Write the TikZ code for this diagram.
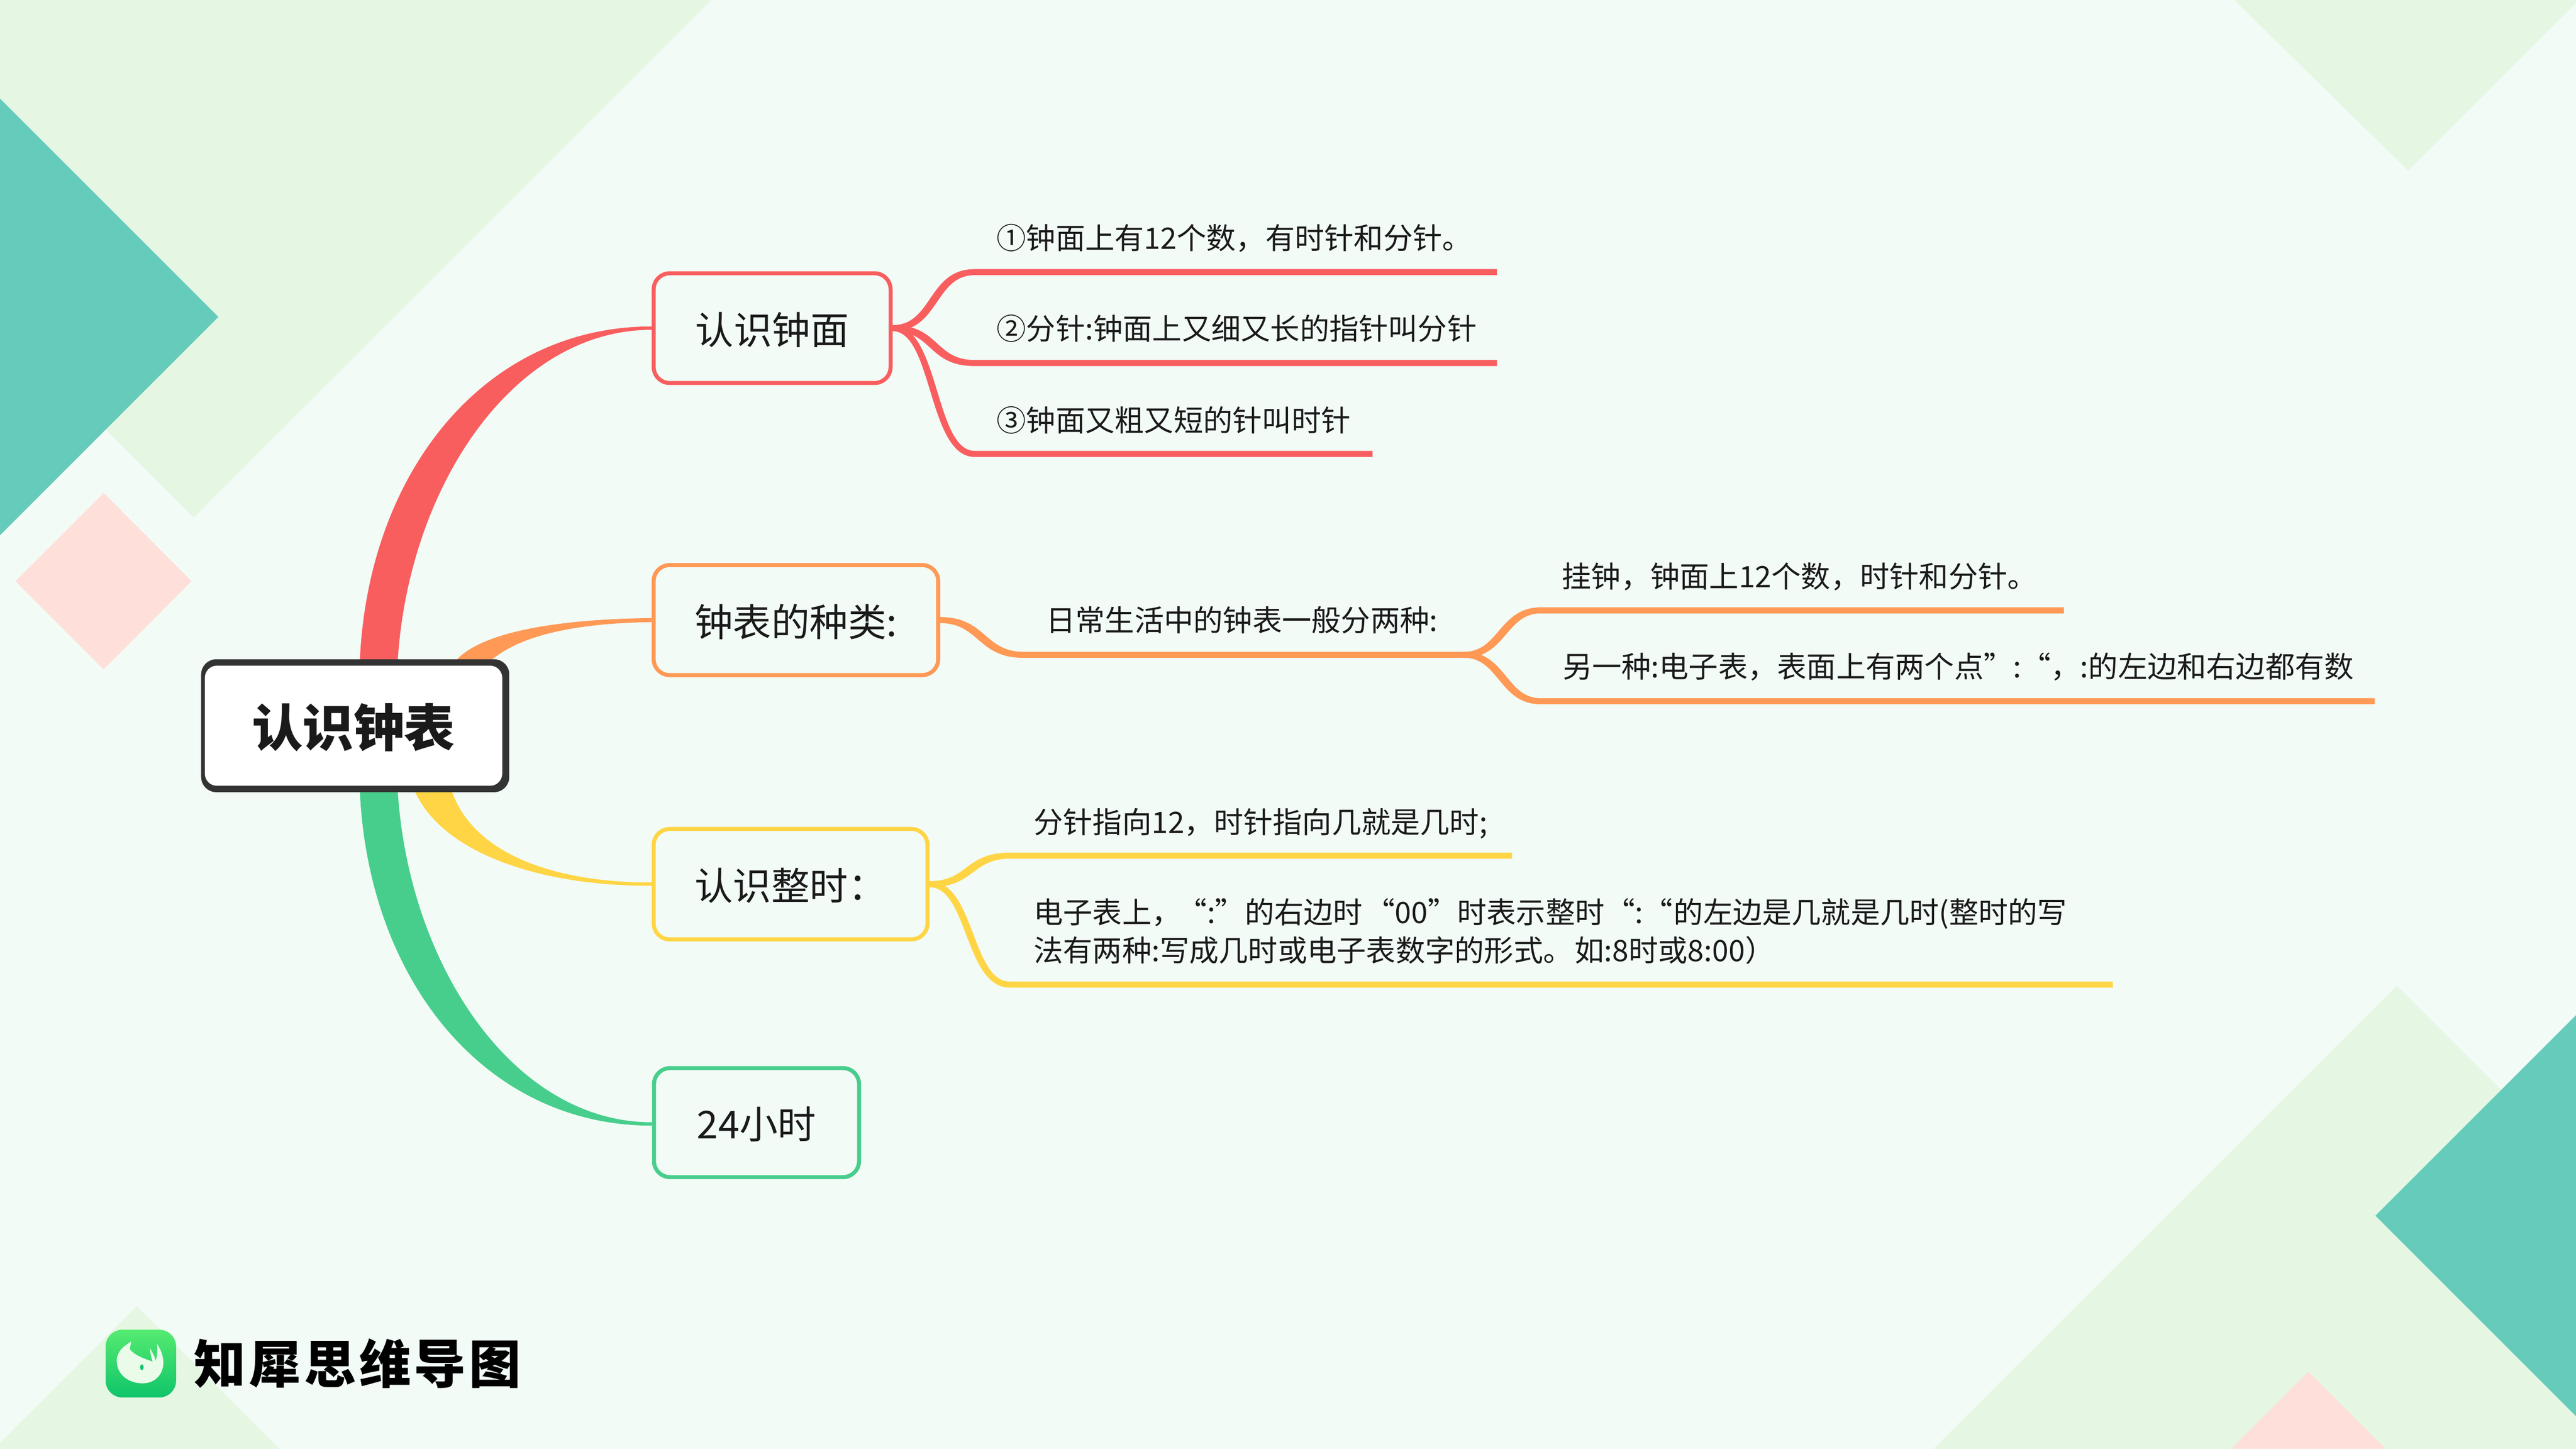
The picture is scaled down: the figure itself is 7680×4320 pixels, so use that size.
\documentclass[tikz,border=0pt]{standalone}
\usepackage{fontspec}
\setmainfont{Noto Sans CJK SC}
\newfontfamily\wmfont[LetterSpace=6]{Noto Sans CJK SC Black}
\usetikzlibrary{calc}
\definecolor{bgc}{HTML}{F2FBF6}
\definecolor{lightg}{HTML}{E5F6E3}
\definecolor{teal1}{HTML}{65CBBB}
\definecolor{pink1}{HTML}{FFDFDA}
\definecolor{redc}{HTML}{F95E5F}
\definecolor{orangec}{HTML}{FF9955}
\definecolor{yellowc}{HTML}{FFD545}
\definecolor{greenc}{HTML}{48CE8C}
\definecolor{darkc}{HTML}{333333}
\definecolor{txt}{HTML}{1A1A1A}
\definecolor{logoA}{HTML}{55EB70}
\definecolor{logoB}{HTML}{0FC46A}
\definecolor{logoC}{HTML}{EAFBEA}
\pgfdeclarelayer{decor}
\pgfdeclarelayer{links}
\pgfsetlayers{decor,links,main}
\tikzset{
  branch/.style={draw=#1,fill=bgc,line width=0.12cm,rounded corners=0.48cm,inner sep=0pt,
    text height=1.0cm,text depth=0.04cm,
    font=\fontsize{32.5pt}{36pt}\selectfont,text=txt},
  leaf/.style={anchor=west,inner sep=0pt,font=\fontsize{25pt}{32.4pt}\selectfont,text=txt,align=left},
}
% color, start, bend, end of underline, c1, c2, s, w0, w1
\newcommand\limb[9]{%
  \fill[#1] ($(#2)+(0,-#8/2)$)
    .. controls ($(#2)+(#5+#7,-#8/2)$) and ($(#3)+(-#6+#7,-#9/2)$) .. ($(#3)+(0,-#9/2)$)
    -- ($(#4)+(0,-#9/2)$) -- ($(#4)+(0,#9/2)$) -- ($(#3)+(0,#9/2)$)
    .. controls ($(#3)+(-#6-#7,#9/2)$) and ($(#2)+(#5-#7,#8/2)$) .. ($(#2)+(0,#8/2)$) -- cycle;}
\begin{document}
\begin{tikzpicture}[x=0.01cm,y=-0.01cm]
\useasboundingbox (0,0) rectangle (7680,4320);
\begin{pgfonlayer}{decor}
\fill[bgc] (0,0) rectangle (7680,4320);
\fill[lightg] (0,0) -- (2121,0) -- (578,1543) -- (0,965) -- cycle;
\fill[teal1] (0,294) -- (651,945) -- (0,1596) -- cycle;
\fill[pink1] (309,1470) -- (571,1733) -- (309,1996) -- (46,1733) -- cycle;
\fill[lightg] (6661,0) -- (7680,0) -- (7680,9) -- (7180,509) -- cycle;
\fill[lightg] (7146,2939) -- (7680,3473) -- (7680,4320) -- (5765,4320) -- cycle;
\fill[teal1] (7680,3027) -- (7082,3625) -- (7680,4223) -- cycle;
\fill[pink1] (6882,4090) -- (7112,4320) -- (6652,4320) -- cycle;
\fill[lightg] (0,4303) -- (408,3895) -- (833,4320) -- (0,4320) -- cycle;
% logo
\shade[top color=logoA,bottom color=logoB,rounded corners=0.5cm] (315,3965) rectangle (525,4167);
\fill[logoC] (391,4000) -- (387,4023) .. controls (400,4040) and (425,4050) .. (455,4060)
  .. controls (450,4045) and (448,4035) .. (447,4020) .. controls (455,4035) and (462,4045) .. (464,4058)
  .. controls (470,4040) and (470,4025) .. (468,4007) .. controls (480,4025) and (487,4045) .. (487,4063)
  .. controls (487,4100) and (460,4125) .. (425,4125) .. controls (385,4125) and (348,4100) .. (348,4057)
  .. controls (348,4040) and (358,4025) .. (370,4015) -- cycle;
\fill[logoB] (423,4077) ellipse [x radius=5,y radius=9];
\end{pgfonlayer}

% central topic and branches
\node[fill=darkc,rounded corners=0.45cm,minimum width=9.18cm,minimum height=3.96cm,inner sep=0pt,outer sep=0pt] (root) at (1059,2164) {};
\node[fill=white,rounded corners=0.36cm,minimum width=8.86cm,minimum height=3.58cm,inner sep=0pt,outer sep=0pt,
  text height=1.3cm,text depth=0.06cm,
  font=\fontsize{43pt}{48pt}\selectfont\bfseries,text=txt] (roottxt) at (1054,2164) {认识钟表};

\node[branch=redc,minimum width=7.06cm,minimum height=3.27cm] (b1) at (2302,978.5) {认识钟面};
\node[branch=orangec,minimum width=8.48cm,minimum height=3.28cm] (b2) at (2373,1849) {钟表的种类:};
\node[branch=yellowc,minimum width=8.16cm,minimum height=3.29cm] (b3) at (2357,2636.5) {认识整时：};
\node[branch=greenc,minimum width=6.11cm,minimum height=3.25cm] (b4) at (2255.5,3347.5) {24小时};

% leaf texts
\node[leaf] (l11) at (2971,710) {①钟面上有12个数，有时针和分针。};
\node[leaf] (l12) at (2971,980) {②分针:钟面上又细又长的指针叫分针};
\node[leaf] (l13) at (2971,1253) {③钟面又粗又短的针叫时针};
\node[leaf] (l21) at (3118,1849) {日常生活中的钟表一般分两种:};
\node[leaf] (l22) at (4656,1720) {挂钟，钟面上12个数，时针和分针。};
\node[leaf] (l23) at (4658,1988) {另一种:电子表，表面上有两个点”:“，:的左边和右边都有数};
\node[leaf] (l31) at (3081,2456) {分针指向12，时针指向几就是几时;};
\node[leaf] (l32) at (3081,2777) {电子表上， \kern-0.3cm“:”的右边时\kern0.08cm“00”时表示整时\kern0.03cm“:“\kern0.03cm的左边是几就是几时(整时的写\\法有两种:写成几时或电子表数字的形式。\kern0.06cm如:8时或8:00）};

% watermark
\node[anchor=west,inner sep=0pt,font=\fontsize{44pt}{48pt}\wmfont,text=black] (wm) at (578,4066) {知犀思维导图};

% free ends of the underlines
\coordinate (k11) at (2906,811.5); \coordinate (e11) at (4463,811.5);
\coordinate (k12) at (2906,1082.5); \coordinate (e12) at (4463,1082.5);
\coordinate (k13) at (2906,1353.5); \coordinate (e13) at (4092,1353.5);
\coordinate (k21) at (3050,1952.5); \coordinate (e21) at (4365,1952.5);
\coordinate (k22) at (4594,1820); \coordinate (e22) at (6153,1820);
\coordinate (k23) at (4594,2091); \coordinate (e23) at (7080,2091);
\coordinate (k31) at (3011,2551.5); \coordinate (e31) at (4508,2551.5);
\coordinate (k32) at (3011,2936); \coordinate (e32) at (6299,2936);

\begin{pgfonlayer}{links}
\fill[redc] ($(root.north)+(14,0)$) .. controls (1100,1400) and (1450,973) .. ($(b1.west)+(0,-5)$)
  -- ($(b1.west)+(0,5)$) .. controls (1530,983) and (1220,1450) .. ($(root.north)+(127,0)$) -- cycle;
\fill[orangec] ($(root.north)+(304,0)$) .. controls (1440,1885) and (1660,1846) .. ($(b2.west)+(0,-6)$)
  -- ($(b2.west)+(0,6)$) .. controls (1730,1858) and (1560,1890) .. ($(root.north)+(409,0)$) -- cycle;
\fill[yellowc] ($(root.south)+(179,0)$) .. controls (1320,2540) and (1600,2642) .. ($(b3.west)+(0,5)$)
  -- ($(b3.west)+(0,-5)$) .. controls (1680,2632) and (1420,2560) .. ($(root.south)+(289,0)$) -- cycle;
\fill[greenc] ($(root.south)+(14,0)$) .. controls (1100,2928) and (1450,3357) .. ($(b4.west)+(0,9)$)
  -- ($(b4.west)+(0,-1)$) .. controls (1530,3347) and (1220,2878) .. ($(root.south)+(127,0)$) -- cycle;
\limb{redc}{b1.east}{k11}{e11}{130}{130}{-10}{18}{18}
\limb{redc}{b1.east}{k12}{e12}{130}{130}{10}{18}{18}
\limb{redc}{b1.east}{k13}{e13}{130}{130}{10}{18}{18}
\limb{orangec}{b2.east}{k21}{e21}{125}{125}{10}{18}{18}
\limb{orangec}{e21}{k22}{e22}{115}{115}{-10}{18}{18}
\limb{orangec}{e21}{k23}{e23}{115}{115}{10}{18}{18}
\limb{yellowc}{b3.east}{k31}{e31}{125}{125}{-10}{18}{18}
\limb{yellowc}{b3.east}{k32}{e32}{125}{125}{10}{18}{18}
\end{pgfonlayer}
\end{tikzpicture}
\end{document}
